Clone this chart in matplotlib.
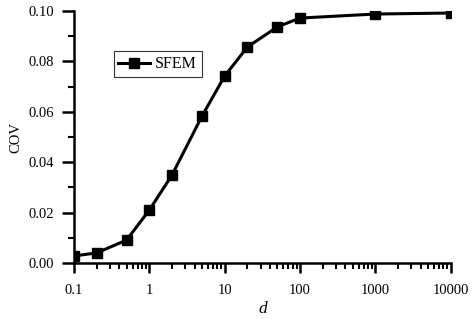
import matplotlib
matplotlib.use("Agg")
import matplotlib.pyplot as plt
from matplotlib.ticker import FixedLocator, NullFormatter, MultipleLocator, FormatStrFormatter

# data
d_vals = [0.1, 0.2, 0.5, 1, 2, 5, 10, 20, 50, 100, 1000, 10000]
cov_vals = [0.0028, 0.0040, 0.0091, 0.0210, 0.0349, 0.0583, 0.0742, 0.0857, 0.0937, 0.0972, 0.0988, 0.0992]
x_ticks = [0.1, 1, 10, 100, 1000, 10000]
x_labels = ["0.1", "1", "10", "100", "1000", "10000"]

plt.rcParams['font.family'] = ['Liberation Serif', 'DejaVu Serif']
plt.rcParams['font.size'] = 10.5

fig = plt.figure(figsize=(4.74, 3.19), dpi=100)
ax = fig.add_axes([0.156, 0.1755, 0.795, 0.79])

ax.plot(d_vals, cov_vals, color='black', lw=2.2, marker='s', ms=6.5, label='SFEM')

ax.set_xscale('log')
ax.set_xlim(0.1, 10000)
ax.set_ylim(0, 0.10)

ax.xaxis.set_major_locator(FixedLocator(x_ticks))
ax.set_xticklabels(x_labels)
minor = [m * 10.0 ** e for e in range(-1, 4) for m in range(2, 10)]
ax.xaxis.set_minor_locator(FixedLocator(minor))
ax.xaxis.set_minor_formatter(NullFormatter())

ax.yaxis.set_major_locator(MultipleLocator(0.02))
ax.yaxis.set_minor_locator(MultipleLocator(0.01))
ax.yaxis.set_major_formatter(FormatStrFormatter('%.2f'))

for s in ['top', 'right']:
    ax.spines[s].set_visible(False)
for s in ['left', 'bottom']:
    ax.spines[s].set_linewidth(1.8)

ax.tick_params(which='major', direction='out', width=1.8)
ax.tick_params(axis='y', which='major', length=8.5, pad=6)
ax.tick_params(axis='x', which='major', length=7, pad=8)
ax.tick_params(which='minor', direction='out', length=4, width=1.5)

ax.set_xlabel('d', style='italic', fontsize=12.5, labelpad=3)
ax.set_ylabel('COV', fontsize=10.5, labelpad=4)

leg = ax.legend(loc='upper left', bbox_to_anchor=(0.105, 0.84), frameon=True, fancybox=False,
                edgecolor='black', handlelength=2.0, handletextpad=0.3, borderpad=0.3,
                borderaxespad=0, fontsize=11.5)
leg.get_frame().set_linewidth(0.8)

fig.savefig('out.png', dpi=100)
